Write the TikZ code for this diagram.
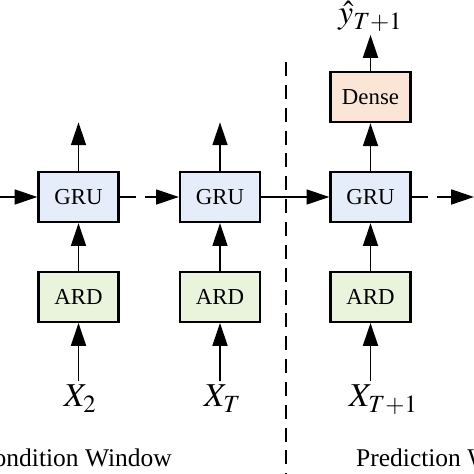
\documentclass[tikz,border=0pt]{standalone}
\usepackage{mathptmx}
\usepackage{fontspec}
\setmainfont{Liberation Serif}
\usetikzlibrary{arrows.meta,positioning,calc}

\definecolor{grufill}{HTML}{E4EDF9}
\definecolor{ardfill}{HTML}{EAF4DD}
\definecolor{densefill}{HTML}{FBE5D6}

\begin{document}
\begin{tikzpicture}[
  node distance=0.95cm,
  box/.style={rectangle, draw, line width=1.3pt, minimum width=1.6cm,
    minimum height=1.0cm, inner sep=2pt, font=\fontsize{13}{15}\selectfont},
  gru/.style={box, fill=grufill},
  ard/.style={box, fill=ardfill},
  dense/.style={box, fill=densefill},
  lbl/.style={inner sep=2pt, font=\fontsize{19}{22}\selectfont},
  arrow/.style={-{Triangle[length=13pt,width=8.5pt]}, line width=1.1pt},
  dasharrow/.style={arrow, dash pattern=on 9.5pt off 5pt}]
  \useasboundingbox (0,0) rectangle (9.48,9.48);
  % recurrent cells
  \node[gru] (g1) at (1.57,5.54) {GRU};
  \node[gru] (g2) at (4.40,5.54) {GRU};
  \node[gru] (g3) at (7.41,5.54) {GRU};
  \node[ard, below=of g1] (a1) {ARD};
  \node[ard, below=of g2] (a2) {ARD};
  \node[ard, below=of g3] (a3) {ARD};
  \node[dense, above=of g3] (d) {Dense};
  % inputs and output
  \node[lbl, anchor=base west] (x1) at (1.20,1.34) {$X_2$};
  \node[lbl, anchor=base west] (x2) at (4.00,1.34) {$X_T$};
  \node[lbl, anchor=base west] (x3) at (6.90,1.34) {$X_{T+1}$};
  \node[lbl, anchor=base] (yh) at (7.41,9.0) {$\hat{y}_{T+1}$};
  \coordinate (in) at (0,5.54);
  \coordinate (out) at (9.48,5.54);
  \coordinate (top) at (5.72,8.24);
  \coordinate (bot) at (5.72,0);
  % window labels
  \node[anchor=base east, font=\fontsize{14.5}{17}\selectfont] (cw) at (3.56,0.14) {Condition Window};
  \node[anchor=base west, font=\fontsize{14.5}{17}\selectfont] (pw) at (7.0,0.14) {Prediction Window};
  \draw[line width=1pt, dash pattern=on 8pt off 5pt] (top) -- (bot);
  % connections
  \draw[arrow] (a1 |- x1.north) -- (a1);
  \draw[arrow] (a2 |- x2.north) -- (a2);
  \draw[arrow] (a3 |- x3.north) -- (a3);
  \draw[arrow] (a1) -- (g1);
  \draw[arrow] (a2) -- (g2);
  \draw[arrow] (a3) -- (g3);
  \draw[arrow] (g1.north) -- ++(0,0.97);
  \draw[arrow] (g2.north) -- ++(0,0.97);
  \draw[arrow] (g3) -- (d);
  \draw[arrow] (d) -- (yh);
  \draw[arrow] (in) -- (g1);
  \draw[dasharrow] (g1) -- (g2);
  \draw[arrow] (g2) -- (g3);
  \draw[dasharrow] (g3) -- (out);
\end{tikzpicture}
\end{document}
